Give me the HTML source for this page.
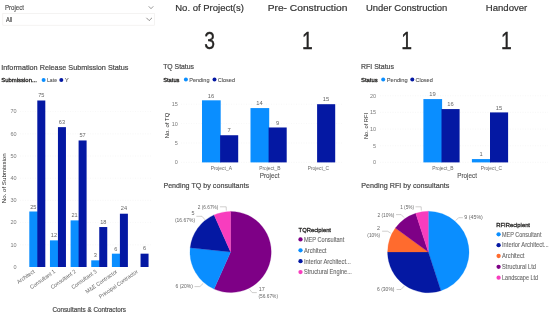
<!DOCTYPE html>
<html><head><meta charset="utf-8"><style>
html,body{margin:0;padding:0;background:#fff;width:550px;height:315px;overflow:hidden}
svg{display:block;font-family:"Liberation Sans",sans-serif;will-change:transform}
</style></head><body>
<svg width="550" height="315" viewBox="0 0 550 315">
<text x="4.9" y="9.8" font-size="7.2" fill="#4a4a4a" text-anchor="start" font-weight="normal" textLength="19" lengthAdjust="spacingAndGlyphs" stroke="#4a4a4a" stroke-width="0.15" >Project</text>
<rect x="2.8" y="13.4" width="151.6" height="11.8" fill="none" stroke="#EDEBE9" stroke-width="0.6"/>
<text x="5.9" y="22.2" font-size="6.6" fill="#4a4a4a" text-anchor="start" font-weight="normal" textLength="6.3" lengthAdjust="spacingAndGlyphs" stroke="#4a4a4a" stroke-width="0.15" >All</text>
<polyline points="148.7,6.3 151,8.7 153.3,6.3" fill="none" stroke="#777777" stroke-width="0.75"/>
<polyline points="146.4,17.8 149.2,20.6 152,17.8" fill="none" stroke="#605E5C" stroke-width="0.7"/>
<text x="209.6" y="10.6" font-size="9.9" fill="#333333" text-anchor="middle" font-weight="normal" textLength="68.7" lengthAdjust="spacingAndGlyphs" stroke="#333333" stroke-width="0.2" >No. of Project(s)</text>
<text x="0" y="0" font-size="23.6" fill="#252423" stroke="#252423" stroke-width="0.35" text-anchor="middle" transform="translate(209.6,48.9) scale(0.82,1)">3</text>
<text x="307.5" y="10.6" font-size="9.9" fill="#333333" text-anchor="middle" font-weight="normal" textLength="79.7" lengthAdjust="spacingAndGlyphs" stroke="#333333" stroke-width="0.2" >Pre- Construction</text>
<text x="0" y="0" font-size="23.6" fill="#252423" stroke="#252423" stroke-width="0.35" text-anchor="middle" transform="translate(307.5,48.9) scale(0.82,1)">1</text>
<text x="406.7" y="10.6" font-size="9.9" fill="#333333" text-anchor="middle" font-weight="normal" textLength="81.3" lengthAdjust="spacingAndGlyphs" stroke="#333333" stroke-width="0.2" >Under Construction</text>
<text x="0" y="0" font-size="23.6" fill="#252423" stroke="#252423" stroke-width="0.35" text-anchor="middle" transform="translate(406.7,48.9) scale(0.82,1)">1</text>
<text x="506.5" y="10.6" font-size="9.9" fill="#333333" text-anchor="middle" font-weight="normal" textLength="41.5" lengthAdjust="spacingAndGlyphs" stroke="#333333" stroke-width="0.2" >Handover</text>
<text x="0" y="0" font-size="23.6" fill="#252423" stroke="#252423" stroke-width="0.35" text-anchor="middle" transform="translate(506.5,48.9) scale(0.82,1)">1</text>
<text x="1.3" y="69.6" font-size="7.9" fill="#4a4a4a" text-anchor="start" font-weight="normal" textLength="127.2" lengthAdjust="spacingAndGlyphs" stroke="#4a4a4a" stroke-width="0.22" >Information Release Submission Status</text>
<text x="1.3" y="81.6" font-size="6" fill="#252423" text-anchor="start" font-weight="normal" textLength="35.6" lengthAdjust="spacingAndGlyphs" stroke="#252423" stroke-width="0.3" >Submission...</text>
<circle cx="43.6" cy="79.9" r="2.0" fill="#0A8EFF"/>
<text x="47" y="81.8" font-size="6" fill="#555555" text-anchor="start" font-weight="normal" textLength="10" lengthAdjust="spacingAndGlyphs" stroke="#555555" stroke-width="0.1" >Late</text>
<circle cx="61.3" cy="79.9" r="2.0" fill="#0418A3"/>
<text x="64.8" y="81.8" font-size="6" fill="#555555" text-anchor="start" font-weight="normal" stroke="#555555" stroke-width="0.1" >Y</text>
<text x="16.6" y="268.8" font-size="5.5" fill="#7a7a7a" text-anchor="end" font-weight="normal" >0</text>
<line x1="20" y1="244.8" x2="152" y2="244.8" stroke="#F2F2F2" stroke-width="0.6" stroke-dasharray="1,1.5"/>
<text x="16.6" y="246.60000000000002" font-size="5.5" fill="#7a7a7a" text-anchor="end" font-weight="normal" >10</text>
<line x1="20" y1="222.6" x2="152" y2="222.6" stroke="#F2F2F2" stroke-width="0.6" stroke-dasharray="1,1.5"/>
<text x="16.6" y="224.4" font-size="5.5" fill="#7a7a7a" text-anchor="end" font-weight="normal" >20</text>
<line x1="20" y1="200.39999999999998" x2="152" y2="200.39999999999998" stroke="#F2F2F2" stroke-width="0.6" stroke-dasharray="1,1.5"/>
<text x="16.6" y="202.2" font-size="5.5" fill="#7a7a7a" text-anchor="end" font-weight="normal" >30</text>
<line x1="20" y1="178.2" x2="152" y2="178.2" stroke="#F2F2F2" stroke-width="0.6" stroke-dasharray="1,1.5"/>
<text x="16.6" y="180.0" font-size="5.5" fill="#7a7a7a" text-anchor="end" font-weight="normal" >40</text>
<line x1="20" y1="156.0" x2="152" y2="156.0" stroke="#F2F2F2" stroke-width="0.6" stroke-dasharray="1,1.5"/>
<text x="16.6" y="157.8" font-size="5.5" fill="#7a7a7a" text-anchor="end" font-weight="normal" >50</text>
<line x1="20" y1="133.79999999999998" x2="152" y2="133.79999999999998" stroke="#F2F2F2" stroke-width="0.6" stroke-dasharray="1,1.5"/>
<text x="16.6" y="135.6" font-size="5.5" fill="#7a7a7a" text-anchor="end" font-weight="normal" >60</text>
<line x1="20" y1="111.6" x2="152" y2="111.6" stroke="#F2F2F2" stroke-width="0.6" stroke-dasharray="1,1.5"/>
<text x="16.6" y="113.39999999999999" font-size="5.5" fill="#7a7a7a" text-anchor="end" font-weight="normal" >70</text>
<rect x="29.30" y="211.50" width="8.60" height="55.50" fill="#0A8EFF"/>
<text x="33.3" y="208.5" font-size="5.6" fill="#666666" text-anchor="middle" font-weight="normal" >25</text>
<rect x="37.30" y="100.50" width="8.00" height="166.50" fill="#0418A3"/>
<text x="41.3" y="96.99999999999997" font-size="5.6" fill="#666666" text-anchor="middle" font-weight="normal" >75</text>
<text x="0" y="0" font-size="5.6" fill="#666666" text-anchor="end" textLength="20.42" lengthAdjust="spacingAndGlyphs" transform="translate(35.099999999999994,272.4) rotate(-35)">Architect</text>
<rect x="49.95" y="240.36" width="8.60" height="26.64" fill="#0A8EFF"/>
<text x="53.949999999999996" y="237.36" font-size="5.6" fill="#666666" text-anchor="middle" font-weight="normal" >12</text>
<rect x="57.95" y="127.14" width="8.00" height="139.86" fill="#0418A3"/>
<text x="61.949999999999996" y="123.63999999999999" font-size="5.6" fill="#666666" text-anchor="middle" font-weight="normal" >63</text>
<text x="0" y="0" font-size="5.6" fill="#666666" text-anchor="end" textLength="29.48" lengthAdjust="spacingAndGlyphs" transform="translate(55.74999999999999,272.4) rotate(-35)">Consultant 1</text>
<rect x="70.60" y="220.38" width="8.60" height="46.62" fill="#0A8EFF"/>
<text x="74.6" y="217.38" font-size="5.6" fill="#666666" text-anchor="middle" font-weight="normal" >21</text>
<rect x="78.60" y="140.46" width="8.00" height="126.54" fill="#0418A3"/>
<text x="82.6" y="136.95999999999998" font-size="5.6" fill="#666666" text-anchor="middle" font-weight="normal" >57</text>
<text x="0" y="0" font-size="5.6" fill="#666666" text-anchor="end" textLength="29.48" lengthAdjust="spacingAndGlyphs" transform="translate(76.39999999999999,272.4) rotate(-35)">Consultant 2</text>
<rect x="91.25" y="260.34" width="8.60" height="6.66" fill="#0A8EFF"/>
<text x="95.25" y="257.34" font-size="5.6" fill="#666666" text-anchor="middle" font-weight="normal" >3</text>
<rect x="99.25" y="227.04" width="8.00" height="39.96" fill="#0418A3"/>
<text x="103.25" y="223.54" font-size="5.6" fill="#666666" text-anchor="middle" font-weight="normal" >18</text>
<text x="0" y="0" font-size="5.6" fill="#666666" text-anchor="end" textLength="29.48" lengthAdjust="spacingAndGlyphs" transform="translate(97.05,272.4) rotate(-35)">Consultant 3</text>
<rect x="111.90" y="253.68" width="8.60" height="13.32" fill="#0A8EFF"/>
<text x="115.89999999999999" y="250.68" font-size="5.6" fill="#666666" text-anchor="middle" font-weight="normal" >6</text>
<rect x="119.90" y="213.72" width="8.00" height="53.28" fill="#0418A3"/>
<text x="123.89999999999999" y="210.22" font-size="5.6" fill="#666666" text-anchor="middle" font-weight="normal" >24</text>
<text x="0" y="0" font-size="5.6" fill="#666666" text-anchor="end" textLength="37.34" lengthAdjust="spacingAndGlyphs" transform="translate(117.69999999999999,272.4) rotate(-35)">M&amp;E Contractor</text>
<rect x="140.55" y="253.68" width="8.00" height="13.32" fill="#0418A3"/>
<text x="144.55" y="250.18" font-size="5.6" fill="#666666" text-anchor="middle" font-weight="normal" >6</text>
<text x="0" y="0" font-size="5.6" fill="#666666" text-anchor="end" textLength="46.1" lengthAdjust="spacingAndGlyphs" transform="translate(138.35000000000002,272.4) rotate(-35)">Principal Contractor</text>
<text x="0" y="0" font-size="5.9" fill="#252423" text-anchor="middle" transform="translate(6.1,178.3) rotate(-90)" textLength="50" lengthAdjust="spacingAndGlyphs">No. of Submission</text>
<text x="89.2" y="311.6" font-size="6.6" fill="#4a4a4a" text-anchor="middle" font-weight="normal" textLength="73.6" lengthAdjust="spacingAndGlyphs" stroke="#4a4a4a" stroke-width="0.2" >Consultants &amp; Contractors</text>
<text x="163.2" y="69.4" font-size="7.9" fill="#4a4a4a" text-anchor="start" font-weight="normal" textLength="30.8" lengthAdjust="spacingAndGlyphs" stroke="#4a4a4a" stroke-width="0.22" >TQ Status</text>
<text x="163.2" y="81.6" font-size="6" fill="#252423" text-anchor="start" font-weight="normal" textLength="16.3" lengthAdjust="spacingAndGlyphs" stroke="#252423" stroke-width="0.3" >Status</text>
<circle cx="185.9" cy="79.6" r="2.0" fill="#0A8EFF"/>
<text x="189.2" y="81.6" font-size="6" fill="#555555" text-anchor="start" font-weight="normal" textLength="20.3" lengthAdjust="spacingAndGlyphs" stroke="#555555" stroke-width="0.1" >Pending</text>
<circle cx="214.5" cy="79.6" r="2.0" fill="#0418A3"/>
<text x="217.7" y="81.6" font-size="6" fill="#555555" text-anchor="start" font-weight="normal" textLength="17.3" lengthAdjust="spacingAndGlyphs" stroke="#555555" stroke-width="0.1" >Closed</text>
<line x1="181" y1="162.4" x2="343" y2="162.4" stroke="#F2F2F2" stroke-width="0.6" stroke-dasharray="1,1.5"/>
<text x="177.9" y="164.4" font-size="5.5" fill="#7a7a7a" text-anchor="end" font-weight="normal" >0</text>
<line x1="181" y1="143.0" x2="343" y2="143.0" stroke="#F2F2F2" stroke-width="0.6" stroke-dasharray="1,1.5"/>
<text x="177.9" y="145.0" font-size="5.5" fill="#7a7a7a" text-anchor="end" font-weight="normal" >5</text>
<line x1="181" y1="123.60000000000001" x2="343" y2="123.60000000000001" stroke="#F2F2F2" stroke-width="0.6" stroke-dasharray="1,1.5"/>
<text x="177.9" y="125.60000000000001" font-size="5.5" fill="#7a7a7a" text-anchor="end" font-weight="normal" >10</text>
<line x1="181" y1="104.20000000000002" x2="343" y2="104.20000000000002" stroke="#F2F2F2" stroke-width="0.6" stroke-dasharray="1,1.5"/>
<text x="177.9" y="106.20000000000002" font-size="5.5" fill="#7a7a7a" text-anchor="end" font-weight="normal" >15</text>
<rect x="202.00" y="100.32" width="18.70" height="62.08" fill="#0A8EFF"/>
<text x="211.1" y="97.52000000000001" font-size="5.8" fill="#666666" text-anchor="middle" font-weight="normal" >16</text>
<rect x="220.10" y="135.24" width="18.10" height="27.16" fill="#0418A3"/>
<text x="229.1" y="132.44" font-size="5.8" fill="#666666" text-anchor="middle" font-weight="normal" >7</text>
<text x="221.29999999999998" y="170" font-size="5.6" fill="#666666" text-anchor="middle" font-weight="normal" textLength="21.3" lengthAdjust="spacingAndGlyphs" >Project_A</text>
<rect x="250.50" y="108.08" width="18.70" height="54.32" fill="#0A8EFF"/>
<text x="259.6" y="105.28000000000002" font-size="5.8" fill="#666666" text-anchor="middle" font-weight="normal" >14</text>
<rect x="268.60" y="127.48" width="18.10" height="34.92" fill="#0418A3"/>
<text x="277.6" y="124.68" font-size="5.8" fill="#666666" text-anchor="middle" font-weight="normal" >9</text>
<text x="269.8" y="170" font-size="5.6" fill="#666666" text-anchor="middle" font-weight="normal" textLength="21.3" lengthAdjust="spacingAndGlyphs" >Project_B</text>
<rect x="317.10" y="104.20" width="18.10" height="58.20" fill="#0418A3"/>
<text x="326.1" y="101.40000000000002" font-size="5.8" fill="#666666" text-anchor="middle" font-weight="normal" >15</text>
<text x="318.3" y="170" font-size="5.6" fill="#666666" text-anchor="middle" font-weight="normal" textLength="21.3" lengthAdjust="spacingAndGlyphs" >Project_C</text>
<text x="269.6" y="177.8" font-size="6.9" fill="#505050" text-anchor="middle" font-weight="normal" textLength="19.7" lengthAdjust="spacingAndGlyphs" stroke="#505050" stroke-width="0.1" >Project</text>
<text x="0" y="0" font-size="5.9" fill="#252423" text-anchor="middle" transform="translate(168.6,125.5) rotate(-90)" textLength="25.4" lengthAdjust="spacingAndGlyphs">No. of TQ</text>
<text x="361" y="69.4" font-size="7.9" fill="#4a4a4a" text-anchor="start" font-weight="normal" textLength="33" lengthAdjust="spacingAndGlyphs" stroke="#4a4a4a" stroke-width="0.22" >RFI Status</text>
<text x="361" y="81.6" font-size="6" fill="#252423" text-anchor="start" font-weight="normal" textLength="16.7" lengthAdjust="spacingAndGlyphs" stroke="#252423" stroke-width="0.3" >Status</text>
<circle cx="383.2" cy="79.6" r="2.0" fill="#0A8EFF"/>
<text x="386.8" y="81.6" font-size="6" fill="#555555" text-anchor="start" font-weight="normal" textLength="20.9" lengthAdjust="spacingAndGlyphs" stroke="#555555" stroke-width="0.1" >Pending</text>
<circle cx="412.3" cy="79.6" r="2.0" fill="#0418A3"/>
<text x="415.5" y="81.6" font-size="6" fill="#555555" text-anchor="start" font-weight="normal" textLength="17.3" lengthAdjust="spacingAndGlyphs" stroke="#555555" stroke-width="0.1" >Closed</text>
<line x1="380" y1="162.4" x2="548" y2="162.4" stroke="#F2F2F2" stroke-width="0.6" stroke-dasharray="1,1.5"/>
<text x="376" y="164.4" font-size="5.5" fill="#7a7a7a" text-anchor="end" font-weight="normal" >0</text>
<line x1="380" y1="145.735" x2="548" y2="145.735" stroke="#F2F2F2" stroke-width="0.6" stroke-dasharray="1,1.5"/>
<text x="376" y="147.735" font-size="5.5" fill="#7a7a7a" text-anchor="end" font-weight="normal" >5</text>
<line x1="380" y1="129.07" x2="548" y2="129.07" stroke="#F2F2F2" stroke-width="0.6" stroke-dasharray="1,1.5"/>
<text x="376" y="131.07" font-size="5.5" fill="#7a7a7a" text-anchor="end" font-weight="normal" >10</text>
<line x1="380" y1="112.405" x2="548" y2="112.405" stroke="#F2F2F2" stroke-width="0.6" stroke-dasharray="1,1.5"/>
<text x="376" y="114.405" font-size="5.5" fill="#7a7a7a" text-anchor="end" font-weight="normal" >15</text>
<line x1="380" y1="95.74000000000001" x2="548" y2="95.74000000000001" stroke="#F2F2F2" stroke-width="0.6" stroke-dasharray="1,1.5"/>
<text x="376" y="97.74000000000001" font-size="5.5" fill="#7a7a7a" text-anchor="end" font-weight="normal" >20</text>
<rect x="423.40" y="99.07" width="18.70" height="63.33" fill="#0A8EFF"/>
<text x="432.5" y="96.27300000000001" font-size="5.8" fill="#666666" text-anchor="middle" font-weight="normal" >19</text>
<rect x="441.50" y="109.07" width="18.10" height="53.33" fill="#0418A3"/>
<text x="450.5" y="106.272" font-size="5.8" fill="#666666" text-anchor="middle" font-weight="normal" >16</text>
<text x="442.8" y="170" font-size="5.6" fill="#666666" text-anchor="middle" font-weight="normal" textLength="21.3" lengthAdjust="spacingAndGlyphs" >Project_B</text>
<rect x="471.90" y="159.07" width="18.70" height="3.33" fill="#0A8EFF"/>
<text x="481.0" y="156.267" font-size="5.8" fill="#666666" text-anchor="middle" font-weight="normal" >1</text>
<rect x="490.00" y="112.41" width="18.10" height="50.00" fill="#0418A3"/>
<text x="499.0" y="109.605" font-size="5.8" fill="#666666" text-anchor="middle" font-weight="normal" >15</text>
<text x="491.3" y="170" font-size="5.6" fill="#666666" text-anchor="middle" font-weight="normal" textLength="21.3" lengthAdjust="spacingAndGlyphs" >Project_C</text>
<text x="467.1" y="177.8" font-size="6.9" fill="#505050" text-anchor="middle" font-weight="normal" textLength="19.7" lengthAdjust="spacingAndGlyphs" stroke="#505050" stroke-width="0.1" >Project</text>
<text x="0" y="0" font-size="5.9" fill="#252423" text-anchor="middle" transform="translate(367.6,126) rotate(-90)" textLength="26" lengthAdjust="spacingAndGlyphs">No. of RFI</text>
<text x="163.4" y="187.9" font-size="7.9" fill="#4a4a4a" text-anchor="start" font-weight="normal" textLength="85.6" lengthAdjust="spacingAndGlyphs" stroke="#4a4a4a" stroke-width="0.22" >Pending TQ by consultants</text>
<text x="361.3" y="187.9" font-size="7.9" fill="#4a4a4a" text-anchor="start" font-weight="normal" textLength="88" lengthAdjust="spacingAndGlyphs" stroke="#4a4a4a" stroke-width="0.22" >Pending RFI by consultants</text>
<path d="M230.6,252 L230.60,211.40 A40.6,40.6 0 1 1 214.09,289.09 Z" fill="#7E0086" stroke="#7E0086" stroke-width="0.25" stroke-linejoin="round"/>
<path d="M230.6,252 L214.09,289.09 A40.6,40.6 0 0 1 190.22,247.76 Z" fill="#0A8EFF" stroke="#0A8EFF" stroke-width="0.25" stroke-linejoin="round"/>
<path d="M230.6,252 L190.22,247.76 A40.6,40.6 0 0 1 214.09,214.91 Z" fill="#0418A3" stroke="#0418A3" stroke-width="0.25" stroke-linejoin="round"/>
<path d="M230.6,252 L214.09,214.91 A40.6,40.6 0 0 1 230.60,211.40 Z" fill="#F83DBE" stroke="#F83DBE" stroke-width="0.25" stroke-linejoin="round"/>
<path d="M428.3,252 L428.30,211.30 A40.7,40.7 0 0 1 440.88,290.71 Z" fill="#0A8EFF" stroke="#0A8EFF" stroke-width="0.25" stroke-linejoin="round"/>
<path d="M428.3,252 L440.88,290.71 A40.7,40.7 0 0 1 387.60,252.00 Z" fill="#0418A3" stroke="#0418A3" stroke-width="0.25" stroke-linejoin="round"/>
<path d="M428.3,252 L387.60,252.00 A40.7,40.7 0 0 1 395.37,228.08 Z" fill="#FF6B2E" stroke="#FF6B2E" stroke-width="0.25" stroke-linejoin="round"/>
<path d="M428.3,252 L395.37,228.08 A40.7,40.7 0 0 1 415.72,213.29 Z" fill="#7E0086" stroke="#7E0086" stroke-width="0.25" stroke-linejoin="round"/>
<path d="M428.3,252 L415.72,213.29 A40.7,40.7 0 0 1 428.30,211.30 Z" fill="#F83DBE" stroke="#F83DBE" stroke-width="0.25" stroke-linejoin="round"/>
<text x="218.3" y="209.2" font-size="5.4" fill="#666666" text-anchor="end" font-weight="normal" textLength="20.5" lengthAdjust="spacingAndGlyphs" >2 (6.67%)</text>
<polyline points="219.9,206.8 226.2,206.8 226.3,210.5" fill="none" stroke="#A19F9D" stroke-width="0.5"/>
<text x="194.6" y="215.0" font-size="5.4" fill="#666666" text-anchor="end" font-weight="normal" >5</text>
<text x="195.1" y="221.7" font-size="5.4" fill="#666666" text-anchor="end" font-weight="normal" textLength="20.2" lengthAdjust="spacingAndGlyphs" >(16.67%)</text>
<polyline points="196.4,216.3 202,216.3 205,219.8" fill="none" stroke="#A19F9D" stroke-width="0.5"/>
<text x="192.9" y="287.6" font-size="5.4" fill="#666666" text-anchor="end" font-weight="normal" textLength="17.4" lengthAdjust="spacingAndGlyphs" >6 (20%)</text>
<polyline points="194.5,286.6 199.9,286.6 203.2,283.4" fill="none" stroke="#A19F9D" stroke-width="0.5"/>
<text x="258.8" y="291.1" font-size="5.4" fill="#666666" text-anchor="start" font-weight="normal" >17</text>
<text x="258.4" y="298.0" font-size="5.4" fill="#666666" text-anchor="start" font-weight="normal" textLength="19.6" lengthAdjust="spacingAndGlyphs" >(56.67%)</text>
<polyline points="249.6,289.4 252.2,292.6 256.8,292.6" fill="none" stroke="#A19F9D" stroke-width="0.5"/>
<text x="298.6" y="231.9" font-size="6.2" fill="#252423" text-anchor="start" font-weight="normal" textLength="32.4" lengthAdjust="spacingAndGlyphs" stroke="#252423" stroke-width="0.3" >TQRecipient</text>
<circle cx="300.5" cy="239.4" r="2.15" fill="#7E0086"/>
<text x="303.9" y="241.70000000000002" font-size="6.9" fill="#666666" text-anchor="start" font-weight="normal" textLength="40.4" lengthAdjust="spacingAndGlyphs" stroke="#666666" stroke-width="0.1" >MEP Consultant</text>
<circle cx="300.5" cy="250.3" r="2.15" fill="#0A8EFF"/>
<text x="303.9" y="252.60000000000002" font-size="6.9" fill="#666666" text-anchor="start" font-weight="normal" textLength="22.6" lengthAdjust="spacingAndGlyphs" stroke="#666666" stroke-width="0.1" >Architect</text>
<circle cx="300.5" cy="261.2" r="2.15" fill="#0418A3"/>
<text x="303.9" y="263.5" font-size="6.9" fill="#666666" text-anchor="start" font-weight="normal" textLength="47.1" lengthAdjust="spacingAndGlyphs" stroke="#666666" stroke-width="0.1" >Interior Architect...</text>
<circle cx="300.5" cy="272.1" r="2.15" fill="#F83DBE"/>
<text x="303.9" y="274.40000000000003" font-size="6.9" fill="#666666" text-anchor="start" font-weight="normal" textLength="48" lengthAdjust="spacingAndGlyphs" stroke="#666666" stroke-width="0.1" >Structural Engine...</text>
<text x="414.1" y="209.4" font-size="5.4" fill="#666666" text-anchor="end" font-weight="normal" textLength="13.9" lengthAdjust="spacingAndGlyphs" >1 (5%)</text>
<polyline points="415.5,206.8 421.2,206.8 421.3,210.5" fill="none" stroke="#A19F9D" stroke-width="0.5"/>
<text x="394.5" y="217.4" font-size="5.4" fill="#666666" text-anchor="end" font-weight="normal" textLength="17.1" lengthAdjust="spacingAndGlyphs" >2 (10%)</text>
<polyline points="396,214.6 401.2,214.6 404,217.5" fill="none" stroke="#A19F9D" stroke-width="0.5"/>
<text x="379.9" y="230.3" font-size="5.4" fill="#666666" text-anchor="end" font-weight="normal" >2</text>
<text x="380.2" y="236.5" font-size="5.4" fill="#666666" text-anchor="end" font-weight="normal" textLength="12.9" lengthAdjust="spacingAndGlyphs" >(10%)</text>
<polyline points="382.1,231.2 387.5,231.2 390.7,233.1" fill="none" stroke="#A19F9D" stroke-width="0.5"/>
<text x="394.5" y="290.5" font-size="5.4" fill="#666666" text-anchor="end" font-weight="normal" textLength="17.5" lengthAdjust="spacingAndGlyphs" >6 (30%)</text>
<polyline points="396.6,289.5 401,289.5 404.3,286" fill="none" stroke="#A19F9D" stroke-width="0.5"/>
<text x="464.3" y="218.9" font-size="5.4" fill="#666666" text-anchor="start" font-weight="normal" textLength="18.6" lengthAdjust="spacingAndGlyphs" >9 (45%)</text>
<polyline points="455.7,220.6 458.6,217.7 462.9,217.7" fill="none" stroke="#A19F9D" stroke-width="0.5"/>
<text x="496.3" y="227.1" font-size="6.2" fill="#252423" text-anchor="start" font-weight="normal" textLength="33.7" lengthAdjust="spacingAndGlyphs" stroke="#252423" stroke-width="0.3" >RFIRecipient</text>
<circle cx="498.6" cy="234.3" r="2.15" fill="#0A8EFF"/>
<text x="502" y="236.60000000000002" font-size="6.9" fill="#666666" text-anchor="start" font-weight="normal" textLength="39.4" lengthAdjust="spacingAndGlyphs" stroke="#666666" stroke-width="0.1" >MEP Consultant</text>
<circle cx="498.6" cy="245.15" r="2.15" fill="#0418A3"/>
<text x="502" y="247.45000000000002" font-size="6.9" fill="#666666" text-anchor="start" font-weight="normal" textLength="46.6" lengthAdjust="spacingAndGlyphs" stroke="#666666" stroke-width="0.1" >Interior Architect...</text>
<circle cx="498.6" cy="256.0" r="2.15" fill="#FF6B2E"/>
<text x="502" y="258.3" font-size="6.9" fill="#666666" text-anchor="start" font-weight="normal" textLength="22.4" lengthAdjust="spacingAndGlyphs" stroke="#666666" stroke-width="0.1" >Architect</text>
<circle cx="498.6" cy="266.85" r="2.15" fill="#7E0086"/>
<text x="502" y="269.15000000000003" font-size="6.9" fill="#666666" text-anchor="start" font-weight="normal" textLength="34" lengthAdjust="spacingAndGlyphs" stroke="#666666" stroke-width="0.1" >Structural Ltd</text>
<circle cx="498.6" cy="277.7" r="2.15" fill="#F83DBE"/>
<text x="502" y="280.0" font-size="6.9" fill="#666666" text-anchor="start" font-weight="normal" textLength="36.2" lengthAdjust="spacingAndGlyphs" stroke="#666666" stroke-width="0.1" >Landscape Ltd</text>
</svg>
</body></html>
